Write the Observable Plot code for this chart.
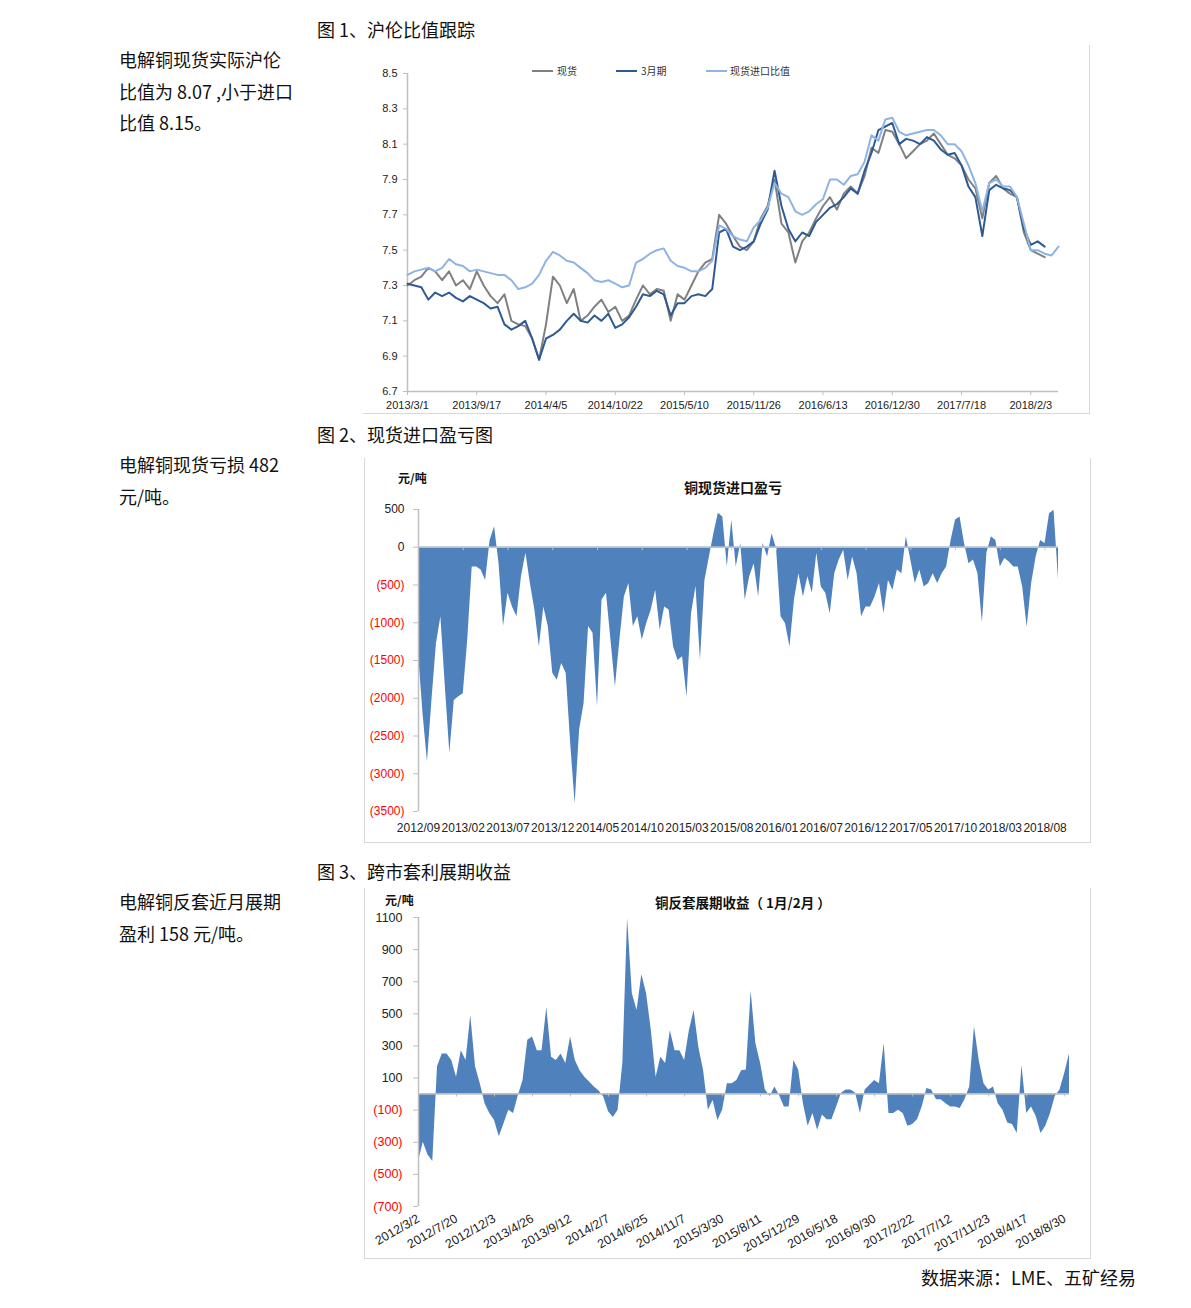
<!DOCTYPE html>
<html><head><meta charset="utf-8">
<script src="https://cdn.jsdelivr.net/npm/d3@7"></script>
<script src="https://cdn.jsdelivr.net/npm/@observablehq/plot@0.6"></script>
<style>
body{margin:0;background:#fff;}
#page{position:relative;width:1191px;height:1308px;font-family:"Noto Sans CJK SC","Noto Sans",sans-serif;color:#111;overflow:hidden;}
.abs{position:absolute;white-space:nowrap;}
.para{font-size:18px;line-height:31.5px;}
.fig{font-size:18px;line-height:24px;}
.chart{position:absolute;}
.chart svg{overflow:visible;}
.chart svg text{fill:#222;}
.leg{position:absolute;font-size:10px;line-height:12px;color:#333;white-space:nowrap;}
.legline{position:absolute;height:2px;width:21px;}
.ctitle{position:absolute;font-weight:bold;white-space:nowrap;color:#111;}
</style></head><body>
<div id="page">
  <div class="abs fig" style="left:317px;top:17px">图 1、沪伦比值跟踪</div>
  <div class="abs para" style="left:119px;top:44px">电解铜现货实际沪伦<br>比值为 8.07 ,小于进口<br>比值 8.15。</div>

  <div class="abs fig" style="left:317px;top:422px">图 2、现货进口盈亏图</div>
  <div class="abs para" style="left:119px;top:449px">电解铜现货亏损 482<br>元/吨。</div>

  <div class="abs fig" style="left:317px;top:859px">图 3、跨市套利展期收益</div>
  <div class="abs para" style="left:119px;top:886px">电解铜反套近月展期<br>盈利 158 元/吨。</div>

  <div class="abs fig" style="left:921px;top:1265px">数据来源：LME、五矿经易</div>

  <div id="c1" class="chart" style="left:363px;top:45px;width:726px;height:368px;border-right:1px solid #d9d9d9;border-bottom:1px solid #d9d9d9;"></div>
  <div id="leg1"></div>

  <div id="c2" class="chart" style="left:364px;top:458px;width:725px;height:384px;border-left:1px solid #d9d9d9;border-right:1px solid #d9d9d9;border-bottom:1px solid #d9d9d9;"></div>
  <div class="ctitle" style="left:398px;top:470px;font-size:12px;line-height:16px;">元/吨</div>
  <div class="ctitle" style="left:684px;top:478px;font-size:14px;line-height:18px;">铜现货进口盈亏</div>

  <div id="c3" class="chart" style="left:364px;top:888px;width:725px;height:370px;border-left:1px solid #d9d9d9;border-right:1px solid #d9d9d9;border-bottom:1px solid #d9d9d9;"></div>
  <div class="ctitle" style="left:385px;top:892px;font-size:12px;line-height:16px;">元/吨</div>
  <div class="ctitle" style="left:655px;top:893px;font-size:13.5px;line-height:18px;">铜反套展期收益（ 1月/2月 ）</div>
</div>
<script>
// ---------- Chart 1 data: 沪伦比值跟踪 (sampled every 20 days from 2013/3/1) ----------
const start1 = "2013/3/1";
const stepDays1 = 20;
const seriesNames1 = ["现货", "3月期", "现货进口比值"];
const seriesColors1 = ["#808080", "#2e5a94", "#8db4e2"];
const spot1 = [7.30,7.33,7.35,7.40,7.38,7.33,7.38,7.30,7.33,7.28,
 7.38,7.30,7.24,7.20,7.25,7.10,7.08,7.07,7.00,6.88,
 7.08,7.35,7.30,7.20,7.28,7.10,7.13,7.18,7.22,7.15,
 7.18,7.10,7.13,7.22,7.30,7.25,7.28,7.27,7.10,7.25,
 7.22,7.30,7.38,7.43,7.45,7.70,7.65,7.58,7.52,7.50,
 7.55,7.68,7.75,7.90,7.65,7.60,7.43,7.55,7.60,7.68,
 7.75,7.80,7.73,7.82,7.86,7.82,7.92,8.08,8.05,8.18,
 8.17,8.10,8.02,8.06,8.10,8.12,8.16,8.10,8.04,8.02,
 7.98,7.90,7.85,7.68,7.88,7.92,7.85,7.82,7.80,7.60,
 7.50,7.48,7.46];
const month3 = [7.31,7.30,7.29,7.22,7.26,7.24,7.26,7.23,7.21,7.24,
 7.22,7.20,7.17,7.18,7.08,7.05,7.07,7.10,7.00,6.88,
 7.00,7.02,7.05,7.10,7.14,7.10,7.09,7.13,7.10,7.14,
 7.06,7.08,7.12,7.18,7.25,7.24,7.27,7.25,7.13,7.20,
 7.20,7.24,7.25,7.24,7.28,7.60,7.62,7.52,7.50,7.52,
 7.55,7.65,7.73,7.95,7.75,7.62,7.55,7.60,7.58,7.66,
 7.70,7.74,7.76,7.80,7.85,7.82,7.95,8.05,8.18,8.20,
 8.22,8.10,8.13,8.12,8.10,8.14,8.12,8.07,8.04,8.05,
 7.98,7.86,7.80,7.58,7.84,7.87,7.85,7.84,7.80,7.62,
 7.53,7.55,7.52];
const importRatio = [7.36,7.38,7.39,7.40,7.38,7.40,7.45,7.42,7.41,7.38,
 7.39,7.38,7.37,7.36,7.36,7.33,7.28,7.29,7.31,7.36,
 7.44,7.49,7.47,7.44,7.43,7.40,7.37,7.33,7.32,7.33,
 7.31,7.29,7.30,7.43,7.45,7.48,7.50,7.51,7.44,7.41,
 7.40,7.38,7.38,7.40,7.44,7.64,7.62,7.58,7.56,7.55,
 7.63,7.67,7.74,7.88,7.82,7.80,7.72,7.70,7.72,7.76,
 7.79,7.90,7.90,7.87,7.92,7.93,8.00,8.15,8.12,8.24,
 8.25,8.17,8.15,8.16,8.17,8.18,8.18,8.15,8.10,8.10,
 8.06,7.98,7.88,7.72,7.88,7.90,7.86,7.86,7.80,7.65,
 7.50,7.50,7.48,7.47,7.52];
const xTicks1 = ["2013/3/1","2013/9/17","2014/4/5","2014/10/22","2015/5/10","2015/11/26","2016/6/13","2016/12/30","2017/7/18","2018/2/3"];
const yTicks1 = [6.7,6.9,7.1,7.3,7.5,7.7,7.9,8.1,8.3,8.5];

// ---------- Chart 2 data: 铜现货进口盈亏 (元/吨) ----------
const xLabels2 = ["2012/09","2013/02","2013/07","2013/12","2014/05","2014/10","2015/03","2015/08","2016/01","2016/07","2016/12","2017/05","2017/10","2018/03","2018/08"];
const samplesPerLabel2 = 10;
const importProfit = [-1400,-2200,-2840,-2030,-1280,-920,-1850,-2730,-2030,-1980,
 -1940,-1230,-260,-260,-300,-440,90,270,-220,-1050,
 -610,-790,-920,-390,-80,-480,-830,-1320,-790,-1050,
 -1670,-1760,-1540,-1670,-2600,-3400,-2420,-2070,-1050,-1140,
 -2110,-700,-610,-1230,-1850,-1230,-660,-480,-1050,-920,
 -1230,-1010,-830,-570,-1100,-790,-830,-1320,-1500,-1450,
 -1980,-880,-520,-1500,-440,-130,180,450,400,-260,
 360,-260,
 50,-700,-390,-220,-660,50,-130,180,-20,-920,
 -1010,-1320,-700,-350,-660,-390,-610,-80,-525,-610,
 -880,-350,-170,-40,-440,-130,-350,-920,-790,-790,
 -660,-480,-880,-440,-570,-300,-350,140,-170,-480,
 -300,-525,-480,-350,-480,-350,-260,90,360,400,
 50,-220,-170,-350,-1000,-80,140,90,-260,-150,
 -195,-260,-260,-525,-1060,-480,-130,90,50,445,
 490,-430];
const yTicks2 = [500,0,-500,-1000,-1500,-2000,-2500,-3000,-3500];

// ---------- Chart 3 data: 铜反套展期收益（1月/2月） (元/吨) ----------
const xLabels3 = ["2012/3/2","2012/7/20","2012/12/3","2013/4/26","2013/9/12","2014/2/7","2014/6/25","2014/11/7","2015/3/30","2015/8/11","2015/12/29","2016/5/18","2016/9/30","2017/2/22","2017/7/12","2017/11/23","2018/4/17","2018/8/30"];
const samplesPerLabel3 = 8;
const rollProfit = [-420,-300,-380,-420,170,250,250,210,105,270,
 210,490,170,65,-60,-120,-165,-265,-185,-100,
 -120,-10,85,335,355,270,270,540,230,210,
 250,190,355,210,145,105,75,45,20,-20,
 -110,-145,-100,190,1095,625,520,745,625,395,
 105,230,190,395,270,270,210,395,520,290,
 145,-100,-40,-165,-100,65,65,85,145,
 150,640,315,190,25,-15,45,-10,-80,-80,
 210,150,-60,-200,-120,-225,-130,-160,-160,-80,
 5,25,25,5,-120,25,55,85,65,315,
 -120,-120,-100,-120,-200,-190,-160,-80,35,25,
 -35,-35,-60,-80,-80,-90,-35,45,420,210,
 65,25,45,-60,-100,-180,-190,-245,180,-120,
 -80,-140,-245,-200,-120,-15,25,130,250];
const yTicks3 = [1100,900,700,500,300,100,-100,-300,-500,-700];

// ---------- helpers ----------
const DAY = 864e5;
const parseYMD = s => { const [y,m,d] = s.split("/").map(Number); return new Date(Date.UTC(y, m-1, d)); };
const fmtYMD = d => `${d.getUTCFullYear()}/${d.getUTCMonth()+1}/${d.getUTCDate()}`;
const acct = v => v < 0 ? `(${-v})` : `${v}`;
const AXIS = "#bfbfbf";
const NUMFONT = "'Liberation Sans', Arial, sans-serif";

// ---------- Chart 1 ----------
const t0 = parseYMD(start1).getTime();
const toRows = vals => vals.map((v, i) => ({date: new Date(t0 + i * stepDays1 * DAY), value: v}));
const allSeries1 = [spot1, month3, importRatio];
const endDate1 = new Date(t0 + (importRatio.length - 1) * stepDays1 * DAY);
const c1 = Plot.plot({
  width: 726, height: 368,
  marginLeft: 44, marginRight: 31, marginTop: 28, marginBottom: 22,
  style: {fontFamily: NUMFONT, fontSize: "11px", color: AXIS, background: "transparent"},
  x: {type: "utc", domain: [new Date(t0), endDate1], ticks: xTicks1.map(parseYMD), tickFormat: fmtYMD, tickSize: 4, tickPadding: 6, label: null},
  y: {domain: [6.7, 8.5], ticks: yTicks1, tickFormat: d3.format(".1f"), tickSize: 4, tickPadding: 6, label: null},
  marks: [
    Plot.ruleX([new Date(t0)], {stroke: AXIS, strokeWidth: 1.5}),
    Plot.ruleY([6.7], {stroke: AXIS, strokeWidth: 1.5}),
    ...allSeries1.map((vals, k) => Plot.line(toRows(vals), {x: "date", y: "value", stroke: seriesColors1[k], strokeWidth: 2}))
  ]
});
document.getElementById("c1").appendChild(c1);

// legend for chart 1
const legPos = [[532, 557], [616, 641], [706, 730]];
const leg = document.getElementById("leg1");
seriesNames1.forEach((name, k) => {
  const ln = document.createElement("div");
  ln.className = "legline";
  ln.style.cssText = `left:${legPos[k][0]}px;top:70px;background:${seriesColors1[k]};`;
  leg.appendChild(ln);
  const tx = document.createElement("div");
  tx.className = "leg";
  tx.style.cssText = `left:${legPos[k][1]}px;top:65px;`;
  tx.textContent = name;
  leg.appendChild(tx);
});
leg.style.position = "absolute"; leg.style.left = "0"; leg.style.top = "0";

// ---------- Chart 2 ----------
const rows2 = importProfit.map((v, i) => ({i, v}));
const tickIdx2 = xLabels2.map((_, k) => k * samplesPerLabel2);
const c2 = Plot.plot({
  width: 725, height: 384,
  marginLeft: 53, marginRight: 32, marginTop: 51, marginBottom: 31,
  style: {fontFamily: NUMFONT, fontSize: "12px", color: AXIS, background: "transparent"},
  x: {domain: [0, importProfit.length - 1], ticks: tickIdx2, tickFormat: i => xLabels2[Math.round(i / samplesPerLabel2)], tickSize: 0, tickPadding: 12, label: null},
  y: {domain: [-3500, 500], ticks: yTicks2, tickFormat: acct, tickSize: 5, tickPadding: 9, label: null},
  marks: [
    Plot.areaY(rows2, {x: "i", y: "v", fill: "#4f81bd"}),
    Plot.ruleY([0], {stroke: AXIS, strokeWidth: 1.5}),
    Plot.ruleX(tickIdx2, {x: d => d, y1: 0, y2: -45, stroke: AXIS}),
    Plot.ruleX([0], {stroke: AXIS, strokeWidth: 1.5})
  ]
});
document.getElementById("c2").appendChild(c2);

// ---------- Chart 3 ----------
const rows3 = rollProfit.map((v, i) => ({i, v}));
const tickIdx3 = xLabels3.map((_, k) => k * samplesPerLabel3);
const c3 = Plot.plot({
  width: 725, height: 370,
  marginLeft: 53, marginRight: 21, marginTop: 29, marginBottom: 52,
  style: {fontFamily: NUMFONT, fontSize: "12.5px", color: AXIS, background: "transparent"},
  x: {domain: [0, rollProfit.length - 1], ticks: tickIdx3, tickFormat: i => xLabels3[Math.round(i / samplesPerLabel3)], tickSize: 0, tickPadding: 11, tickRotate: -30, label: null},
  y: {domain: [-700, 1100], ticks: yTicks3, tickFormat: acct, tickSize: 5, tickPadding: 11, label: null},
  marks: [
    Plot.areaY(rows3, {x: "i", y: "v", fill: "#4f81bd"}),
    Plot.ruleY([0], {stroke: AXIS, strokeWidth: 1.5}),
    Plot.ruleX(tickIdx3, {x: d => d, y1: 0, y2: -18, stroke: AXIS}),
    Plot.ruleX([0], {stroke: AXIS, strokeWidth: 1.5})
  ]
});
document.getElementById("c3").appendChild(c3);

// negative labels in red
[c2, c3].forEach(svg => {
  d3.select(svg).selectAll("text").each(function() {
    if (this.textContent.trim().startsWith("(")) this.style.fill = "#ff0000";
  });
});
</script>
</body></html>
